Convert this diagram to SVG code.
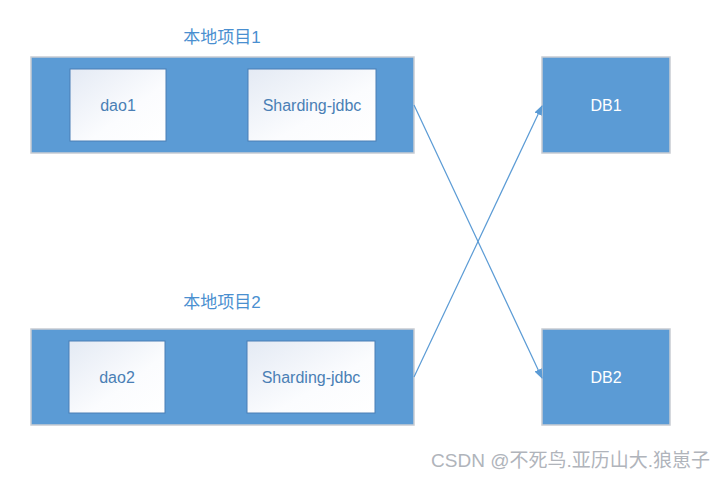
<svg xmlns="http://www.w3.org/2000/svg" width="725" height="478" viewBox="0 0 725 478">
<style>
.outer{fill:#5b9bd5;stroke:#c8ccd2;stroke-width:1.5}
.inner{fill:url(#g);stroke:#4a7fb5;stroke-width:1}
.t{font-family:"Liberation Sans","Noto Sans CJK SC",sans-serif;font-size:16px;text-anchor:middle;dominant-baseline:central}
.it{fill:#4a7fb5}
.wt{fill:#fff}
.title{fill:#4a8fd0;font-size:17px}
.c{stroke:#5b9bd5;stroke-width:1.2;fill:none;marker-end:url(#a)}
</style>
<defs>
<linearGradient id="g" x1="0" y1="0" x2="1" y2="1"><stop offset="0" stop-color="#e4eaf4"/><stop offset="0.6" stop-color="#fbfcfe"/><stop offset="1" stop-color="#ffffff"/></linearGradient>
<marker id="a" markerWidth="10" markerHeight="8" refX="9" refY="4" orient="auto" markerUnits="userSpaceOnUse"><path d="M0,0 L10,4 L0,8 Z" fill="#5b9bd5"/></marker>
</defs>
<rect width="725" height="478" fill="#fff"/>
<g id="proj1">
<text class="t title" x="222" y="37">本地项目1</text>
<rect class="outer" x="31" y="57" width="383" height="96"/>
</g>
<g id="dao1"><rect class="inner" x="70" y="69" width="96" height="72"/><text class="t it" x="118" y="105">dao1</text></g>
<g id="sj1"><rect class="inner" x="248" y="69" width="128" height="72"/><text class="t it" x="312" y="105">Sharding-jdbc</text></g>
<g id="proj2">
<text class="t title" x="222" y="302">本地项目2</text>
<rect class="outer" x="31" y="329" width="383" height="96"/>
</g>
<g id="dao2"><rect class="inner" x="69" y="341" width="96" height="72"/><text class="t it" x="117" y="377">dao2</text></g>
<g id="sj2"><rect class="inner" x="247" y="341" width="128" height="72"/><text class="t it" x="311" y="377">Sharding-jdbc</text></g>
<g id="db1"><rect class="outer" x="542" y="57" width="128" height="96"/><text class="t wt" x="606" y="105">DB1</text></g>
<g id="db2"><rect class="outer" x="542" y="329" width="128" height="96"/><text class="t wt" x="606" y="377">DB2</text></g>
<g id="connectors">
<path class="c" d="M414,105 L542,378"/>
<path class="c" d="M414,377 L542,106"/>
</g>
<text x="710" y="460" font-family="Liberation Sans,'Noto Sans CJK SC',sans-serif" font-size="19" fill="#b0b4bb" text-anchor="end" dominant-baseline="central">CSDN @不死鸟.亚历山大.狼崽子</text>
</svg>
